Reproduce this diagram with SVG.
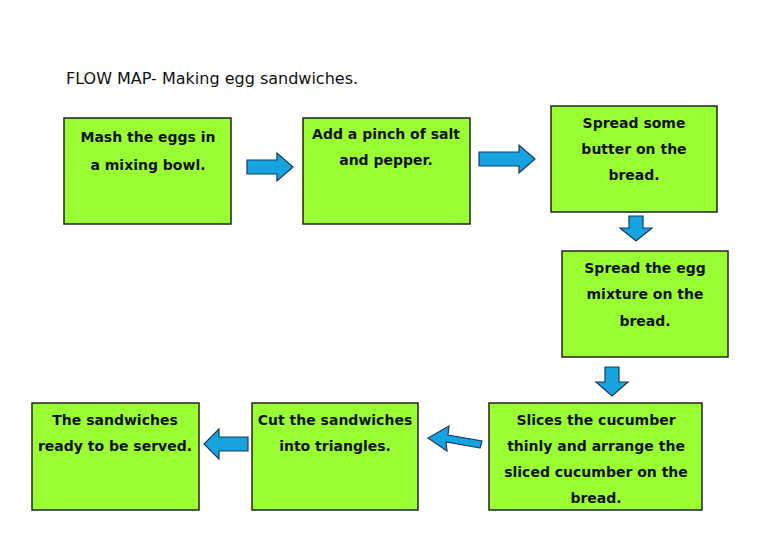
<svg xmlns="http://www.w3.org/2000/svg" width="768" height="543" viewBox="0 0 768 543">
<style>
.box{fill:#99FF33;stroke:#222;stroke-width:1.5}
.t{font-family:"Comic Sans MS","DejaVu Sans",sans-serif;font-size:14px;font-weight:bold;fill:#111;text-anchor:middle}
.ar{fill:#17A2E0;stroke:#1a3a5a;stroke-width:1.2}
</style>
<rect width="768" height="543" fill="#fff"/>
<text x="66" y="84" font-family="'Comic Sans MS','DejaVu Sans',sans-serif" font-size="16" fill="#111">FLOW MAP- Making egg sandwiches.</text>
<g id="n1"><rect class="box" x="64" y="118" width="167" height="106"/><text class="t" x="148" y="142">Mash the eggs in</text><text class="t" x="148" y="170">a mixing bowl.</text></g>
<g id="n2"><rect class="box" x="303" y="118" width="167" height="106"/><text class="t" x="386" y="139">Add a pinch of salt</text><text class="t" x="386" y="165">and pepper.</text></g>
<g id="n3"><rect class="box" x="551" y="106" width="166" height="106"/><text class="t" x="634" y="128">Spread some</text><text class="t" x="634" y="154">butter on the</text><text class="t" x="634" y="180">bread.</text></g>
<g id="n4"><rect class="box" x="562" y="251" width="166" height="106"/><text class="t" x="645" y="273">Spread the egg</text><text class="t" x="645" y="299">mixture on the</text><text class="t" x="645" y="326">bread.</text></g>
<g id="n5"><rect class="box" x="489" y="403" width="213" height="107"/><text class="t" x="596" y="425">Slices the cucumber</text><text class="t" x="596" y="451">thinly and arrange the</text><text class="t" x="596" y="477">sliced cucumber on the</text><text class="t" x="596" y="503">bread.</text></g>
<g id="n6"><rect class="box" x="252" y="403" width="166" height="107"/><text class="t" x="335" y="425">Cut the sandwiches</text><text class="t" x="335" y="451">into triangles.</text></g>
<g id="n7"><rect class="box" x="32" y="403" width="167" height="107"/><text class="t" x="115" y="425">The sandwiches</text><text class="t" x="115" y="451">ready to be served.</text></g>
<g id="connectors">
<polygon class="ar" points="247,160 277,160 277,153 293,167 277,181 277,174 247,174"/>
<polygon class="ar" points="479,152 519,152 519,145 535,159 519,173 519,166 479,166"/>
<polygon class="ar" points="629,216 643,216 643,228 652,228 636,241 620,228 629,228"/>
<polygon class="ar" points="605,367 619,367 619,382 628,382 612,396 596,382 605,382"/>
<polygon class="ar" points="480,448 446,442 447,451 428,438 449,426 448,435 482,441"/>
<polygon class="ar" points="248,437 219,437 219,429 204,444 219,459 219,451 248,451"/>
</g>
</svg>
